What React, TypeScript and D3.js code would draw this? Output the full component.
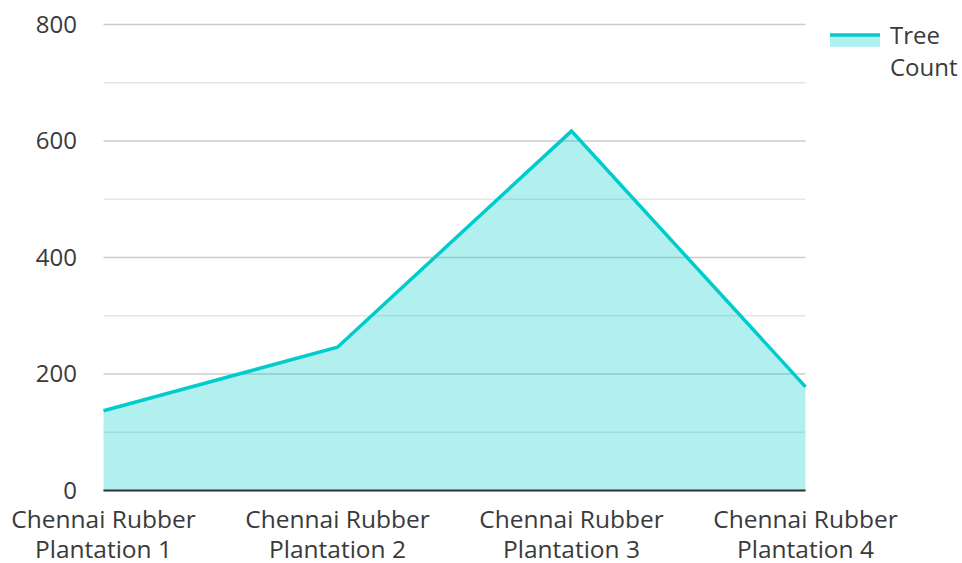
import React from "react";
import * as d3 from "d3";

const categories = [
  ["Chennai Rubber", "Plantation 1"],
  ["Chennai Rubber", "Plantation 2"],
  ["Chennai Rubber", "Plantation 3"],
  ["Chennai Rubber", "Plantation 4"],
];
const treeCount = [137, 246, 617, 178];
const yTicks = [0, 200, 400, 600, 800];
const yMinorTicks = [100, 300, 500, 700];
const seriesName = ["Tree", "Count"];

const W = 962;
const H = 563;
const M = { left: 103.5, right: 805.5, top: 24.5, bottom: 490.5 };
const FONT = "'Open Sans', sans-serif";
const LINE = "#00CCCC";
const FILL = "rgba(0, 204, 204, 0.3)";

export default function App() {
  const x = d3
    .scalePoint<number>()
    .domain(d3.range(categories.length))
    .range([M.left, M.right]);
  const y = d3.scaleLinear().domain([0, 800]).range([M.bottom, M.top]);

  const area = d3
    .area<number>()
    .x((_, i) => x(i)!)
    .y0(y(0))
    .y1((d) => y(d));
  const line = d3
    .line<number>()
    .x((_, i) => x(i)!)
    .y((d) => y(d));

  return (
    <svg
      width={W}
      height={H}
      style={{ position: "absolute", left: 0, top: 0, background: "#fff" }}
      fontFamily={FONT}
    >
      {yMinorTicks.map((t) => (
        <line
          key={"m" + t}
          x1={M.left}
          x2={M.right}
          y1={y(t)}
          y2={y(t)}
          stroke="#e6e6e6"
          strokeWidth={1.5}
        />
      ))}
      {yTicks.map((t) => (
        <line
          key={"g" + t}
          x1={M.left}
          x2={M.right}
          y1={y(t)}
          y2={y(t)}
          stroke="#cccccc"
          strokeWidth={1.5}
        />
      ))}
      <path d={area(treeCount)!} fill={FILL} />
      <path d={line(treeCount)!} fill="none" stroke={LINE} strokeWidth={3.5} strokeLinejoin="miter" />
      <line
        x1={M.left}
        x2={M.right}
        y1={y(0)}
        y2={y(0)}
        stroke="#333333"
        strokeWidth={2}
      />
      {yTicks.map((t) => (
        <text
          key={"t" + t}
          x={77}
          y={y(t)}
          dy="0.35em"
          textAnchor="end"
          fontSize={24}
          fill="#3a3a3a"
        >
          {t}
        </text>
      ))}
      {categories.map((c, i) => (
        <text key={"c" + i} textAnchor="middle" fontSize={24.5} fill="#3a3a3a">
          {c.map((s, j) => (
            <tspan key={j} x={x(i)} y={528 + j * 30}>
              {s}
            </tspan>
          ))}
        </text>
      ))}
      <rect x={830} y={34} width={50} height={13} fill={FILL} />
      <line x1={830} x2={880} y1={35} y2={35} stroke={LINE} strokeWidth={3.5} />
      {seriesName.map((s, j) => (
        <text key={s} x={890} y={43.5 + j * 32.5} fontSize={24} fill="#3a3a3a">
          {s}
        </text>
      ))}
    </svg>
  );
}
